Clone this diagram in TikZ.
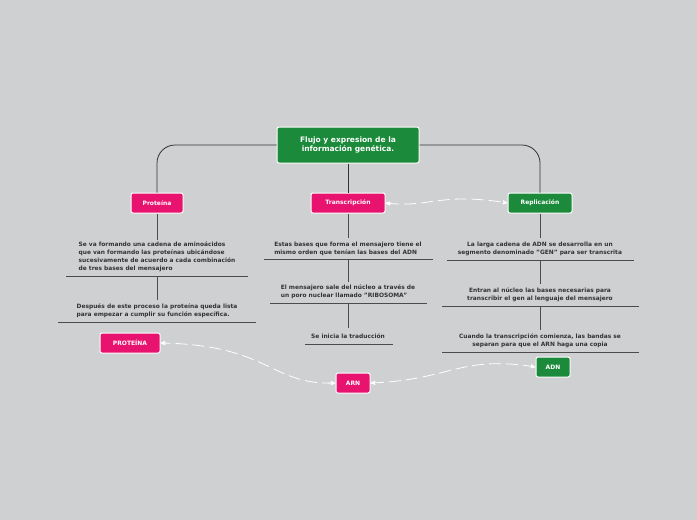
\documentclass[tikz,border=0pt]{standalone}
\usepackage{fontspec}
\setmainfont{DejaVu Sans}
\usetikzlibrary{arrows,positioning}
\definecolor{bg}{HTML}{CFD0D2}
\definecolor{mapgreen}{HTML}{1B8A3A}
\definecolor{mappink}{HTML}{E8136F}
\definecolor{ink}{HTML}{333333}
\begin{document}
\begin{tikzpicture}[x=1pt,y=-1pt,>=stealth',semithick]
  \tikzstyle{topic}=[draw=white,line width=1pt,rounded corners=2pt,text=white,font=\bfseries\fontsize{6}{7}\selectfont,align=center,minimum height=20pt,inner sep=3pt]
  \tikzstyle{leaf}=[text=ink,font=\bfseries\fontsize{5.9}{8}\selectfont,align=left,inner sep=2pt]
  \tikzstyle{rule}=[draw=gray!60!black,thin]
  \tikzstyle{link}=[draw=white,dashed,dash pattern=on 12pt off 5pt,thick,<->]
  \fill[bg] (0,0) rectangle (697,520);
  \useasboundingbox (0,0) rectangle (697,520);
  % main topic and branches
  \node[topic,fill=mapgreen,minimum width=142pt,minimum height=36pt,font=\bfseries\fontsize{7.5}{9}\selectfont] (root) at (348,145) {Flujo y expresion de la\\información genética.};
  \node[topic,fill=mappink,minimum width=52pt]  (prot)  at (157,203) {Proteína};
  \node[topic,fill=mappink,minimum width=74pt]  (trans) at (348,203) {Transcripción};
  \node[topic,fill=mapgreen,minimum width=64pt] (repl)  at (540,203) {Replicación};
  \draw[black!80,thick,rounded corners=18pt] (root.west) -- (157,145) -- (prot.north);
  \draw[black!80,thick,rounded corners=18pt] (root.east) -- (540,145) -- (repl.north);
  \draw[black!80,thick] (root.south) -- (trans.north);
  % left leaves
  \node[leaf] (p1) at (157,257) {Se va formando una cadena de aminoácidos\\que van formando las proteínas ubicándose\\sucesivamente de acuerdo a cada combinación\\de tres bases del mensajero};
  \node[leaf] (p2) at (157,311) {Después de este proceso la proteína queda lista\\para empezar a cumplir su función específica.};
  \draw[rule] (66,276) -- (248,276);
  \draw[rule] (58,322) -- (256,322);
  \draw[rule] (prot.south) -- (157,240);
  \draw[rule] (157,277) -- (157,300);
  % middle leaves
  \node[leaf] (t1) at (348,249) {Estas bases que forma el mensajero tiene el\\mismo orden que tenían las bases del ADN};
  \node[leaf] (t2) at (348,292) {El mensajero sale del núcleo a través de\\un poro nuclear llamado "RIBOSOMA"};
  \node[leaf] (t3) at (348,336) {Se inicia la traducción};
  \draw[rule] (264,259) -- (433,259);
  \draw[rule] (270,303) -- (427,303);
  \draw[rule] (305,344) -- (393,344);
  \draw[rule] (trans.south) -- (348,238);
  \draw[rule] (348,260) -- (348,282);
  \draw[rule] (348,304) -- (348,328);
  % right leaves
  \node[leaf,align=center] (r1) at (540,249) {La larga cadena de ADN se desarrolla en un\\segmento denominado "GEN" para ser transcrita};
  \node[leaf,align=center] (r2) at (540,295) {Entran al núcleo las bases necesarias para\\transcribir el gen al lenguaje del mensajero};
  \node[leaf,align=center] (r3) at (540,341) {Cuando la transcripción comienza, las bandas se\\separan para que el ARN haga una copia};
  \draw[rule] (447,260) -- (634,260);
  \draw[rule] (442,306) -- (639,306);
  \draw[rule] (442,352) -- (639,352);
  \draw[rule] (repl.south) -- (540,238);
  \draw[rule] (540,261) -- (540,284);
  \draw[rule] (540,307) -- (540,330);
  % bottom topics
  \node[topic,fill=mappink,minimum width=60pt] (PROT) at (130,343) {PROTEÍNA};
  \node[topic,fill=mappink,minimum width=34pt] (arn)  at (353,383) {ARN};
  \node[topic,fill=mapgreen,minimum width=34pt] (adn) at (553,367) {ADN};
  % relations
  \draw[link] (trans.east) .. controls (430,208) and (440,192) .. (repl.west);
  \draw[link] (arn.west) .. controls (270,385) and (270,345) .. (PROT.east);
  \draw[link] (arn.east) .. controls (450,380) and (460,355) .. (adn.west);
\end{tikzpicture}
\end{document}
